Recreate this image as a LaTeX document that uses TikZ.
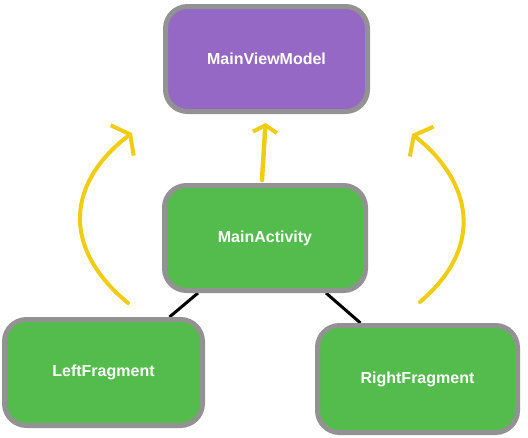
\documentclass[tikz,border=0pt]{standalone}
\usepackage{fontspec}
\setmainfont{Liberation Sans}
\usepackage{xcolor}
\usetikzlibrary {arrows.meta, positioning}
\usetikzlibrary {backgrounds}

\definecolor{boxgreen}{RGB}{84,187,77}
\definecolor{boxpurple}{RGB}{148,104,196}
\definecolor{boxgray}{RGB}{146,146,146}
\definecolor{arcyellow}{RGB}{240,205,20}

\tikzset{
  box/.style={draw=boxgray, line width=5pt, rounded corners=22pt,
    text=white, font=\fontsize{16}{19}\selectfont\bfseries},
  link/.style={line width=3pt, black},
  flow/.style={line width=4pt, arcyellow, line cap=round,
    -{Straight Barb[length=10pt, width=38pt, line width=4pt]}},
  shortflow/.style={line width=4.5pt, arcyellow, line cap=round,
    -{Straight Barb[length=7pt, width=24pt, line width=4pt]}}
}

\begin{document}
\begin{tikzpicture}[x=1pt, y=-1pt]
  \useasboundingbox (0, 0) rectangle (528, 437);
  \node[box, fill=boxpurple, minimum width=202pt, minimum height=105pt] (vm) at (266.5, 59) {MainViewModel};
  \node[box, fill=boxgreen, minimum width=201pt, minimum height=105pt] (act) at (265, 238) {MainActivity};
  \node[box, fill=boxgreen, minimum width=198pt, minimum height=106pt] (left) at (103.5, 372.5) {LeftFragment};
  \node[box, fill=boxgreen, minimum width=200pt, minimum height=107pt] (right) at (417.5, 379) {RightFragment};
  \begin{scope}[on background layer]
    \draw[link] ([xshift=-67pt]act.south) -- ([xshift=66pt]left.north);
    \draw[link] ([xshift=61pt]act.south) -- ([xshift=-57pt]right.north);
  \end{scope}
  \draw[shortflow] ([xshift=-3pt, yshift=3pt]act.north) -- ([xshift=-1pt, yshift=-9pt]vm.south);
  \coordinate (lfrom) at (128, 303);
  \coordinate (lto) at (132, 133);
  \coordinate (rfrom) at (420, 302);
  \coordinate (rto) at (412, 134);
  \draw[flow] (lfrom) .. controls (58, 245) and (70, 180) .. (lto);
  \draw[flow] (rfrom) .. controls (487, 245) and (470, 180) .. (rto);
\end{tikzpicture}
\end{document}
